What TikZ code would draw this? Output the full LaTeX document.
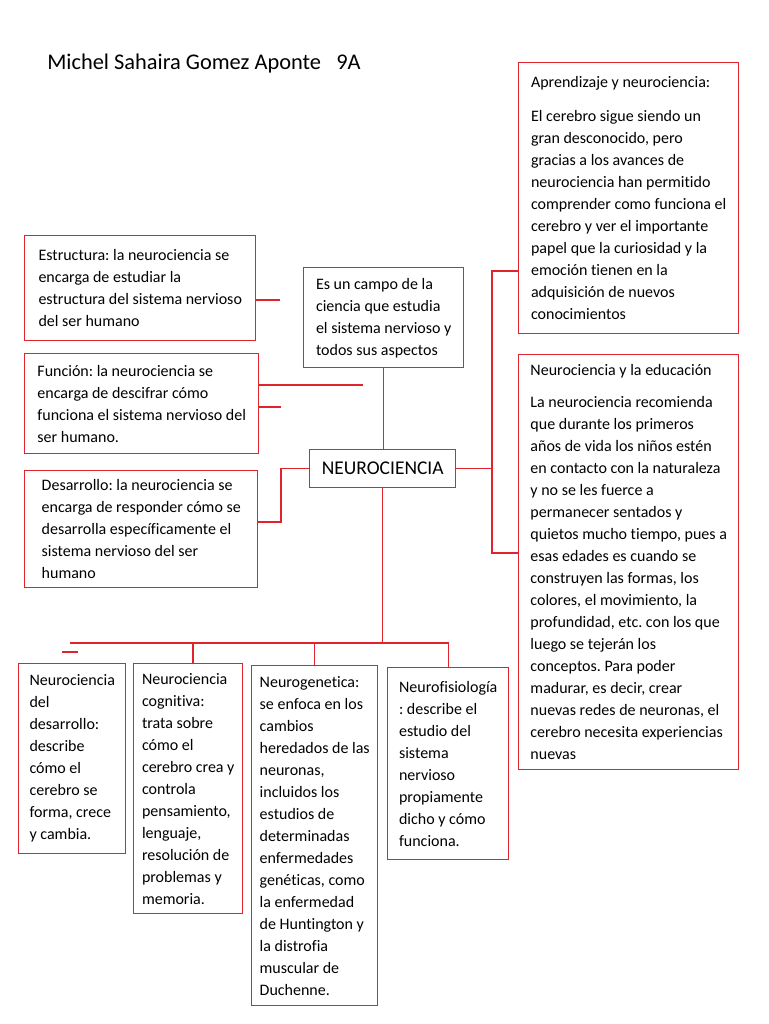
\documentclass[tikz,border=0pt]{standalone}
\usepackage{fontspec}
\setmainfont{Carlito}[Ligatures={NoCommon}, Contextuals={NoAlternate}]
\usepackage{tikz}
\frenchspacing
\definecolor{boxred}{RGB}{224,36,46}
\tikzset{
  bx/.style 2 args={draw=boxred, line width=1.1pt, align=left, anchor=north west,
    inner xsep=2pt, inner ysep=2pt,
    minimum width=#1*0.75pt, minimum height=#2*0.75pt,
    font=\fontsize{12}{16.5}\selectfont},
  conn/.style={draw=boxred, line width=0.9pt},
}
\begin{document}
\begin{tikzpicture}[x=0.75pt, y=-0.75pt]
\useasboundingbox (0,0) rectangle (768,1024);

%% ─── Title ──────────────────────────────────────────────────────────────────
\node[anchor=west, inner sep=0pt, font=\fontsize{16.8}{20}\selectfont] (title) at (47,64)
  {Michel Sahaira Gomez Aponte\ \ \ 9A};

%% ─── Centre ─────────────────────────────────────────────────────────────────
\node[bx={146}{38}, font=\fontsize{14.6}{17}\selectfont, align=center] (neuro) at (309,449) {NEUROCIENCIA};
\node[bx={160}{100}] (campo) at (303,267)
  {Es un campo de la\\ ciencia que estudia\\ el sistema nervioso y\\ todos sus aspectos};

%% ─── Left column ────────────────────────────────────────────────────────────
\node[bx={231}{105}] (estr) at (24,235)
  {Estructura: la neurociencia se\\ encarga de estudiar la\\ estructura del sistema nervioso\\ del ser humano};
\node[bx={234}{100}] (func) at (24,353)
  {Función: la neurociencia se\\ encarga de descifrar cómo\\ funciona el sistema nervioso del\\ ser humano.};
\node[bx={233}{117}] (desa) at (24,470)
  {Desarrollo: la neurociencia se\\ encarga de responder cómo se\\ desarrolla específicamente el\\ sistema nervioso del ser\\ humano};

%% ─── Right column ───────────────────────────────────────────────────────────
\node[bx={220}{271}] (apre) at (518,62)
  {Aprendizaje y neurociencia:\\[9pt] El cerebro sigue siendo un\\ gran desconocido, pero\\ gracias a los avances de\\ neurociencia han permitido\\ comprender como funciona el\\ cerebro y ver el importante\\ papel que la curiosidad y la\\ emoción tienen en la\\ adquisición de nuevos\\ conocimientos};
\node[bx={220}{415}] (edu) at (518,354)
  {Neurociencia y la educación\\[7.5pt] La neurociencia recomienda\\ que durante los primeros\\ años de vida los niños estén\\ en contacto con la naturaleza\\ y no se les fuerce a\\ permanecer sentados y\\ quietos mucho tiempo, pues a\\ esas edades es cuando se\\ construyen las formas, los\\ colores, el movimiento, la\\ profundidad, etc. con los que\\ luego se tejerán los\\ conceptos. Para poder\\ madurar, es decir, crear\\ nuevas redes de neuronas, el\\ cerebro necesita experiencias\\ nuevas};

%% ─── Bottom row ─────────────────────────────────────────────────────────────
\node[bx={107}{190}] (ndes) at (18,663)
  {Neurociencia\\ del\\ desarrollo:\\ describe\\ cómo el\\ cerebro se\\ forma, crece\\ y cambia.};
\node[bx={109}{250}] (ncog) at (133,663)
  {Neurociencia\\ cognitiva:\\ trata sobre\\ cómo el\\ cerebro crea y\\ controla\\ pensamiento,\\ lenguaje,\\ resolución de\\ problemas y\\ memoria.};
\node[bx={126}{340}] (ngen) at (251,665)
  {Neurogenetica:\\ se enfoca en los\\ cambios\\ heredados de las\\ neuronas,\\ incluidos los\\ estudios de\\ determinadas\\ enfermedades\\ genéticas, como\\ la enfermedad\\ de Huntington y\\ la distrofia\\ muscular de\\ Duchenne.};
\node[bx={121}{192}] (nfis) at (387,667)
  {Neurofisiología\\ : describe el\\ estudio del\\ sistema\\ nervioso\\ propiamente\\ dicho y cómo\\ funciona.};

%% ─── Connectors ─────────────────────────────────────────────────────────────
\coordinate (estrEnd) at (280,300);
\coordinate (funcEnd) at (363,385);
\coordinate (funcStub) at (281,407);
\coordinate (desaBend) at (281,522);
\coordinate (rTop) at (492,271);
\coordinate (rBot) at (492,553);
\coordinate (busL) at (70,643);
\coordinate (dropB) at (193,643);
\coordinate (stubL) at (62,652);
\coordinate (stubR) at (78,652);

\draw[conn] (campo.south) -- (campo.south |- neuro.north);
\draw[conn] (estr.east |- estrEnd) -- (estrEnd);
\draw[conn] (func.east |- funcEnd) -- (funcEnd);
\draw[conn] (func.east |- funcStub) -- (funcStub);
\draw[conn] (neuro.west) -| (desaBend) -- (desa.east |- desaBend);

\draw[conn] (neuro.east) -- (neuro.east -| rTop);
\draw[conn] (apre.west |- rTop) -- (rTop) -- (rBot) -- (edu.west |- rBot);

\draw[conn] (neuro.south) -- (neuro.south |- busL);
\draw[conn] (busL) -- (nfis.north |- busL) -- (nfis.north);
\draw[conn] (dropB) -- (dropB |- ncog.north);
\draw[conn] (ngen.north |- busL) -- (ngen.north);
\draw[conn] (stubL) -- (stubR);

\end{tikzpicture}
\end{document}
